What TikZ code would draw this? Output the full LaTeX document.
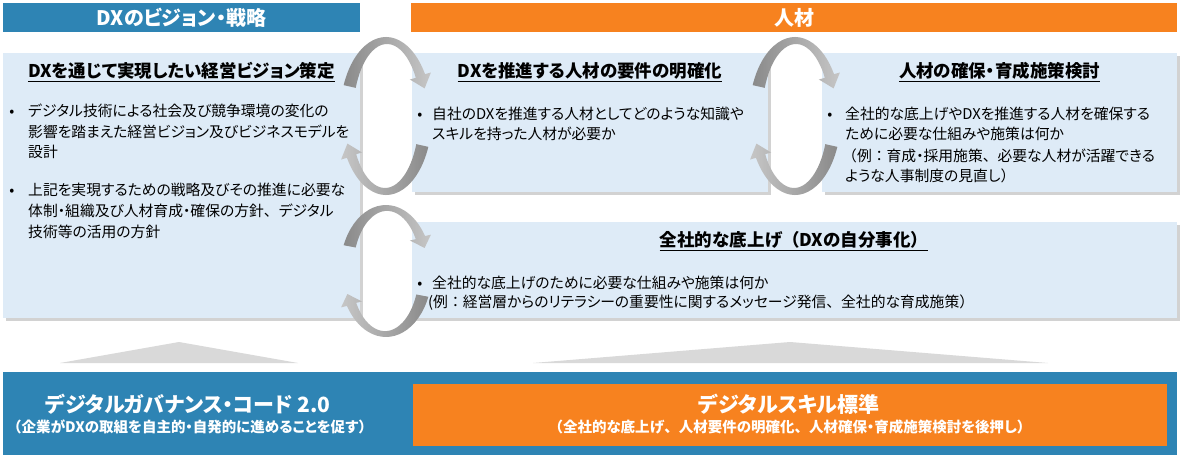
\documentclass[tikz,border=0pt]{standalone}
\usepackage{fontspec}
\setmainfont{Noto Sans CJK JP}[RawFeature={+palt}]
\newfontfamily\fw{Noto Sans CJK JP}
\newcommand{\zlp}{{\fw （}}
\newcommand{\zrp}{{\fw ）}}
\newcommand{\zco}{{\fw ：}}
\newcommand{\zcm}{{\fw 、}}
\usetikzlibrary{shadows}
\definecolor{hblue}{HTML}{2E84B4}
\definecolor{horange}{HTML}{F7821F}
\definecolor{boxfill}{HTML}{DEEBF7}
\definecolor{tri}{HTML}{D9D9D9}
\definecolor{loopdark}{HTML}{8A8A8A}
\definecolor{looplight}{HTML}{C6C6C6}
\tikzset{
  panel/.style={fill=boxfill, draw=none, anchor=north west, inner sep=0,
    drop shadow={shadow xshift=2.5pt, shadow yshift=-2.5pt, opacity=0.35}},
  bar/.style={draw=none, anchor=north west, inner sep=0},
  headtxt/.style={font=\fontsize{20}{22}\selectfont\bfseries, text=white, inner sep=0, anchor=base},
  titletxt/.style={font=\fontsize{17.5}{20}\selectfont\bfseries, inner sep=0, anchor=base},
  uline/.style={line width=1.3pt, black},
  bodytxt/.style={font=\fontsize{14.8}{20}\selectfont, inner sep=0, anchor=base west},
  bul/.style={font=\fontsize{14.8}{20}\selectfont, inner sep=0, anchor=base},
  bigtxt/.style={font=\fontsize{21}{24}\selectfont\bfseries, text=white, inner sep=0, anchor=base},
  subtxt/.style={font=\fontsize{14.5}{18}\selectfont\bfseries, text=white, inner sep=0, anchor=base},
}
\newcommand{\drawloop}[3]{%
  \begin{scope}[shift={(#1,#2)}, yscale=#3]
    \shade[left color=loopdark, right color=looplight]
      (203:46 and 79) arc[start angle=203, end angle=328, x radius=46, y radius=79]
      -- (44.9,-43.5) -- (38.6,-27.6) -- (23.9,-36.5) -- (29.83,-38.16)
      arc[start angle=328, end angle=203, x radius=34, y radius=72] -- cycle;
    \shade[left color=looplight, right color=loopdark]
      (23:46 and 79) arc[start angle=23, end angle=148, x radius=46, y radius=79]
      -- (-44.9,43.5) -- (-38.6,27.6) -- (-23.9,36.5) -- (-29.83,38.16)
      arc[start angle=148, end angle=23, x radius=34, y radius=72] -- cycle;
  \end{scope}}
\newcommand{\underrule}[1]{%
  \draw[uline] ([yshift=-2pt]#1.south west) -- ([yshift=-2pt]#1.south east);}
\begin{document}
\begin{tikzpicture}[x=1pt,y=-1pt]
\useasboundingbox (0,0) rectangle (1181,458);
\fill[white] (0,0) rectangle (1181,458);

% headers
\node[bar, fill=hblue, minimum width=357, minimum height=29] (hleft) at (3,3) {};
\node[bar, fill=horange, minimum width=766, minimum height=29] (hright) at (411,3) {};
\node[headtxt] (hlefttxt) at (181.5,25) {DXのビジョン・戦略};
\node[headtxt] (hrighttxt) at (794,25) {人材};

% panels
\node[panel, minimum width=357, minimum height=265] (lbox) at (3,53) {};
\node[panel, minimum width=356, minimum height=139] (mbox) at (412,53) {};
\node[panel, minimum width=355, minimum height=139] (rbox) at (822,53) {};
\node[panel, minimum width=765, minimum height=96] (bbox) at (412,222) {};

% titles
\node[titletxt] (ltitle) at (181.5,77.5) {DXを通じて実現したい経営ビジョン策定};
\node[titletxt] (mtitle) at (590,77.5) {DXを推進する人材の要件の明確化};
\node[titletxt] (rtitle) at (999.5,77.5) {人材の確保・育成施策検討};
\node[titletxt] (btitle) at (794,246.5) {全社的な底上げ\zlp DXの自分事化\zrp};
\underrule{ltitle}
\underrule{mtitle}
\underrule{rtitle}
\underrule{btitle}

% left body
\node[bul] (lb1) at (12,116.5) {•};
\node[bodytxt] (l1) at (28,116.5) {デジタル技術による社会及び競争環境の変化の};
\node[bodytxt] (l2) at (28,137) {影響を踏まえた経営ビジョン及びビジネスモデルを};
\node[bodytxt] (l3) at (28,157.5) {設計};
\node[bul] (lb2) at (12,195.5) {•};
\node[bodytxt] (l4) at (28,195.5) {上記を実現するための戦略及びその推進に必要な};
\node[bodytxt] (l5) at (28,216.5) {体制・組織及び人材育成・確保の方針\zcm デジタル};
\node[bodytxt] (l6) at (28,237.5) {技術等の活用の方針};

% middle body
\node[bul] (mb1) at (420,119.5) {•};
\node[bodytxt] (m1) at (432,119.5) {自社のDXを推進する人材としてどのような知識や};
\node[bodytxt] (m2) at (432,139.5) {スキルを持った人材が必要か};

% right body
\node[bul] (rb1) at (830,119.5) {•};
\node[bodytxt] (r1) at (845,119.5) {全社的な底上げやDXを推進する人材を確保する};
\node[bodytxt] (r2) at (845,139.5) {ために必要な仕組みや施策は何か};
\node[bodytxt] (r3) at (842,161) {\zlp 例\zco 育成・採用施策\zcm 必要な人材が活躍できる};
\node[bodytxt] (r4) at (845,181) {ような人事制度の見直し\zrp};

% bottom-middle body
\node[bul] (bb1) at (420,288.5) {•};
\node[bodytxt] (b1) at (432,288.5) {全社的な底上げのために必要な仕組みや施策は何か};
\node[bodytxt] (b2) at (428,307.5) {(例\zco 経営層からのリテラシーの重要性に関するメッセージ発信\zcm 全社的な育成施策\zrp};

% loops
\drawloop{386}{116}{1}
\drawloop{386}{271}{0.835}
\drawloop{795}{116}{1}

% support triangles
\fill[tri] (60,363) -- (179,342) -- (298,363) -- cycle;
\fill[tri] (533,363) -- (790,342) -- (1048,363) -- cycle;

% bottom banner
\node[bar, fill=hblue, minimum width=1174, minimum height=83] (gbar) at (3,372) {};
\node[bar, fill=horange, minimum width=754, minimum height=62] (sbar) at (413,384) {};
\node[bigtxt] (gtitle) at (188,412) {デジタルガバナンス・コード 2.0};
\node[subtxt] (gsub) at (190,432) {\zlp 企業がDXの取組を自主的・自発的に進めることを促す\zrp};
\node[bigtxt] (stitle) at (789,412) {デジタルスキル標準};
\node[subtxt] (ssub) at (790,432) {\zlp 全社的な底上げ\zcm 人材要件の明確化\zcm 人材確保・育成施策検討を後押し\zrp};
\end{tikzpicture}
\end{document}
